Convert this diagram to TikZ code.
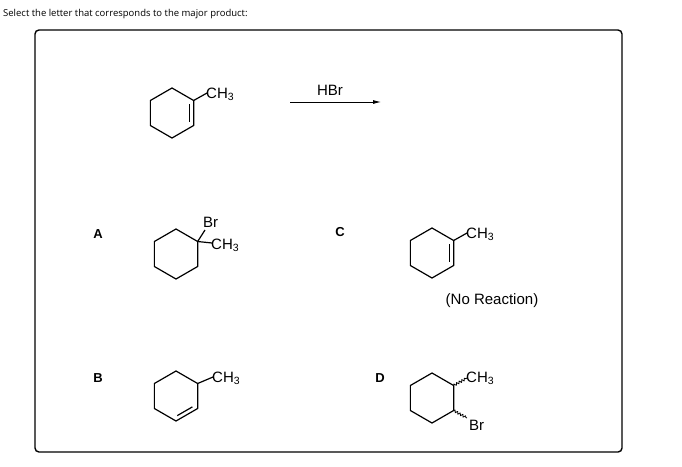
\documentclass[tikz,border=0pt]{standalone}
\usepackage{fontspec}
\setmainfont{Liberation Sans}
\newfontfamily\titlefont{Open Sans}
\usetikzlibrary{calc,decorations.pathmorphing,arrows.meta}
\newcommand\hexring[3]{%
  \foreach \i/\a in {1/-90,2/-30,3/30,4/90,5/150,6/210}{\coordinate (#1\i) at ($(#2,#3)+(\a:25)$);}
  \draw[bond] (#11)--(#12)--(#13)--(#14)--(#15)--(#16)--cycle;}
\newcommand\methyl{CH\textsubscript{3}}
\begin{document}
\begin{tikzpicture}[x=1pt,y=-1pt,
  bond/.style={line width=1.2pt,line join=round},
  chem/.style={font=\fontsize{15}{17}\selectfont,inner sep=0pt,anchor=west},
  lbl/.style={font=\bfseries\fontsize{13}{15}\selectfont,inner sep=0pt},
  wavy/.style={bond,line width=0.8pt,decorate,decoration={snake,amplitude=1.2pt,segment length=3pt}}]
\useasboundingbox (0,0) rectangle (682,466);
\node[font=\titlefont\fontsize{9.5}{11}\selectfont,anchor=west,inner sep=0pt] (title) at (3,14) {Select the letter that corresponds to the major product:};
\draw[line width=1.4pt,rounded corners=4pt] (35,30) rectangle (622,452);
% starting material
\hexring{s}{172}{113}
\draw[bond] ($(s2)!0.15!(s3)+(-4,0)$)--($(s3)!0.15!(s2)+(-4,0)$);
\coordinate (sm) at (207,93);
\draw[bond] (s2)--(sm);
\node[chem] (sch) at (206,94) {\methyl};
\node[font=\fontsize{15}{17}\selectfont,inner sep=0pt] (hbr) at (330,90) {HBr};
\coordinate (ar1) at (290,102); \coordinate (ar2) at (381,102);
\draw[line width=0.8pt,-{Latex[length=8pt,width=4pt]}] (ar1)--(ar2);
% A
\node[lbl] (la) at (98,234) {A};
\hexring{a}{176}{254}
\coordinate (abr) at (205,230); \coordinate (ame) at (212,243);
\draw[bond] (a2)--(abr); \draw[bond] (a2)--(ame);
\node[chem] (abrt) at (203,222) {Br};
\node[chem] (acht) at (211,245) {\methyl};
% C
\node[lbl] (lc) at (340,232) {C};
\hexring{c}{432}{253}
\draw[bond] ($(c2)!0.15!(c3)+(-4,0)$)--($(c3)!0.15!(c2)+(-4,0)$);
\coordinate (cm) at (467,233);
\draw[bond] (c2)--(cm);
\node[chem] (ccht) at (466,234) {\methyl};
\node[font=\fontsize{15}{17}\selectfont,inner sep=0pt] (nr) at (492,301) {(No Reaction)};
% B
\node[lbl] (lb) at (98,378) {B};
\hexring{b}{176}{396}
\draw[bond] ($(b3)!0.15!(b4)+(-2,-3.5)$)--($(b4)!0.15!(b3)+(-2,-3.5)$);
\coordinate (bm) at (213,377);
\draw[bond] (b2)--(bm);
\node[chem] (bcht) at (212,378) {\methyl};
% D
\node[lbl] (ld) at (380,378) {D};
\hexring{d}{432}{398}
\coordinate (dm) at (467,378); \coordinate (db) at (467,418);
\draw[wavy] (d2)--(dm); \draw[wavy] (d3)--(db);
\node[chem] (dcht) at (466,378) {\methyl};
\node[chem] (dbrt) at (469,425) {Br};
\end{tikzpicture}
\end{document}
